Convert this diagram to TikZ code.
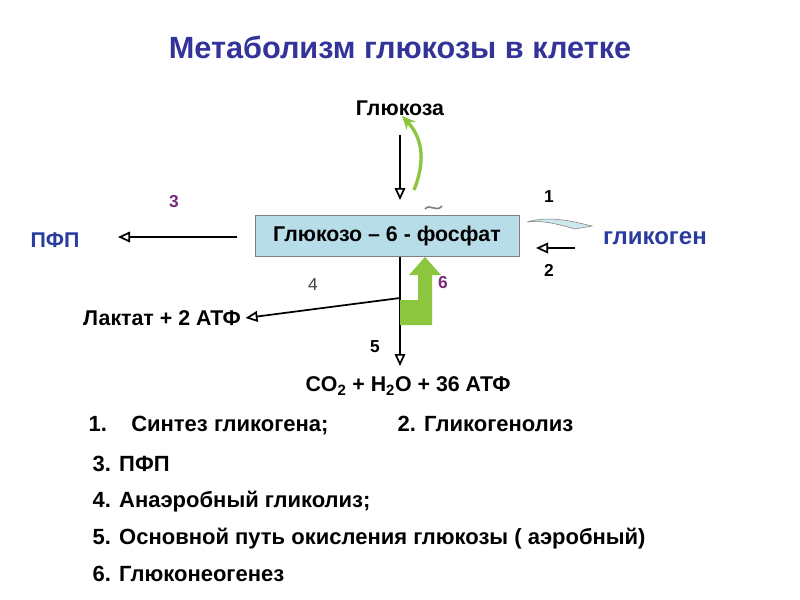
\documentclass[tikz,border=0pt]{standalone}
\usepackage{fontspec}
\setmainfont{Liberation Sans}
\usetikzlibrary{arrows.meta}
\definecolor{tblue}{HTML}{333399}
\definecolor{gblue}{HTML}{2A3D9E}
\definecolor{boxc}{HTML}{B7DDE8}
\definecolor{gr}{HTML}{8CC63F}
\definecolor{pur}{HTML}{7A2A7A}
\tikzset{lbl/.style={font=\bfseries\fontsize{16}{18}\selectfont},
 arr/.style={-{Triangle[open,length=9pt,width=8pt]},line width=1.3pt},
 num/.style={font=\bfseries\fontsize{13}{15}\selectfont}}
\begin{document}
\begin{tikzpicture}[x=0.75pt,y=-0.75pt]
\useasboundingbox[fill=white] (0,0) rectangle (800,600);
\node (title) at (400,47) {\color{tblue}\bfseries\fontsize{23}{26}\selectfont Метаболизм глюкозы в клетке};
\node[lbl] (glu) at (400,108) {Глюкоза};
\node[draw=gray,fill=boxc,minimum width=198pt,minimum height=31pt,font=\bfseries\fontsize{16}{18}\selectfont] (g6p) at (387,236) {Глюкозо – 6 - фосфат};
\node[font=\bfseries\fontsize{18}{20}\selectfont,text=gblue] (glyc) at (655,238) {гликоген};
\node[lbl,text=gblue] (pfp) at (55,240) {ПФП};
\node[lbl] (lac) at (162,318) {Лактат + 2 АТФ};
\node[lbl] (co2) at (408,386) {CO\textsubscript{2} + H\textsubscript{2}O + 36 АТФ};
\node[num] at (549,197) {1};
\node[num] at (549,270) {2};
\node[num,text=pur] at (174,202) {3};
\node[font=\fontsize{13}{15}\selectfont,text=darkgray] at (313,285) {4};
\node[num] at (375,347) {5};
\node[num,text=pur] at (443,283) {6};
\coordinate (a) at (400,135); \coordinate (b) at (400,200);
\draw[arr] (a) -- (b);
\draw[-{Stealth[length=10pt,width=9pt]},gr,line width=2.5pt] (414,190) .. controls (430,150) and (415,130) .. (402,116);
\draw[line width=1.2pt,gray] (425,209) .. controls (430,203) and (436,213) .. (442,206);
\draw[fill=boxc!70,draw=gray] (527,222) .. controls (550,215) and (575,222) .. (592,226) -- (575,229) .. controls (560,225) and (545,220) .. (527,222);
\coordinate (c) at (575,248); \coordinate (d) at (536,248);
\draw[arr] (c) -- (d);
\coordinate (e) at (237,237); \coordinate (f) at (118,237);
\draw[arr] (e) -- (f);
\coordinate (g) at (400,298);
\draw[line width=1.3pt] (g6p.south -| 400,0) -- (400,298);
\draw[arr] (g) -- (lac.east);
\draw[arr] (g) -- (400,366);
\fill[gr] (400,325) -- (432,325) -- (432,275) -- (441,275) -- (425,257) -- (409,275) -- (418,275) -- (418,300) -- (400,300) -- cycle;
\begin{scope}[font=\bfseries\fontsize{16.5}{18}\selectfont]
\node[anchor=base west] at (84,431) {1.\hspace{1.1em}Синтез гликогена;};
\node[anchor=base west] at (393,431) {2. Гликогенолиз};
\node[anchor=base west] at (88,471) {3. ПФП};
\node[anchor=base west] at (88,507) {4. Анаэробный гликолиз;};
\node[anchor=base west] at (88,544) {5. Основной путь окисления глюкозы ( аэробный)};
\node[anchor=base west] at (88,581) {6. Глюконеогенез};
\end{scope}
\end{tikzpicture}
\end{document}
